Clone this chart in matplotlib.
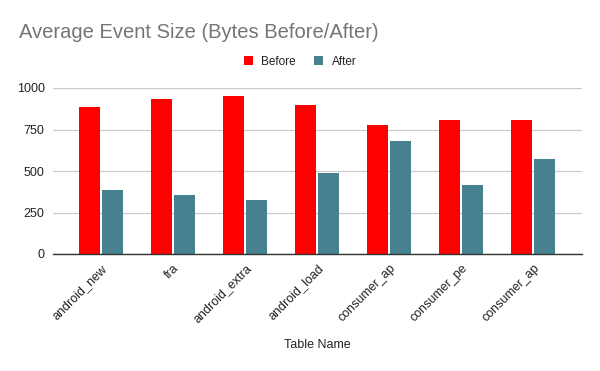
import matplotlib
matplotlib.use("Agg")
import matplotlib.pyplot as plt
import numpy as np

categories = ["android_new", "fra", "android_extra", "android_load", "consumer_ap", "consumer_pe", "consumer_ap"]
before = [885, 934, 954, 899, 777, 807, 807]
after = [384, 354, 324, 487, 680, 414, 571]
yticks = [0, 250, 500, 750, 1000]

plt.rcParams['font.family'] = ['Liberation Sans', 'DejaVu Sans']
fig = plt.figure(figsize=(6, 3.71), dpi=100)
ax = fig.add_axes([53/600, 1-254/371, (582-53)/600, (254-88)/371])

x = np.arange(len(categories))
w = 0.29
gap = 0.03
ax.bar(x - (w+gap)/2, before, w, color="#ff0000", label="Before", zorder=3)
ax.bar(x + (w+gap)/2, after, w, color="#45818e", label="After", zorder=3)

ax.set_xlim(-0.67, len(categories)-1+0.675)
ax.set_ylim(0, 1000)
ax.set_yticks(yticks)
ax.set_yticklabels([str(t) for t in yticks], fontsize=9, color="#222222")
ax.yaxis.grid(True, color="#cccccc", linewidth=0.9, zorder=0)
ax.set_axisbelow(True)
for s in ["top", "right", "left"]:
    ax.spines[s].set_visible(False)
ax.spines["bottom"].set_color("#333333")
ax.spines["bottom"].set_linewidth(1.0)
ax.spines["bottom"].set_zorder(4)
ax.tick_params(axis="both", length=0, pad=6)
ax.set_xticks(x)
ax.set_xticklabels(categories, rotation=45, ha="right", rotation_mode="anchor", fontsize=9, color="#222222")
ax.set_xlabel("Table Name", fontsize=9, color="#222222", labelpad=10)

fig.text(19/600, 1-32/371, "Average Event Size (Bytes Before/After)", fontsize=14.5, color="#757575", va="center", ha="left")
leg = fig.legend(loc="center", bbox_to_anchor=(300/600, 1-62/371), ncol=2, frameon=False,
                 fontsize=8.5, handlelength=0.8, handleheight=0.8, columnspacing=1.5, handletextpad=0.7)
for t in leg.get_texts():
    t.set_color("#222222")

fig.savefig("out.png", dpi=100, facecolor="white")
